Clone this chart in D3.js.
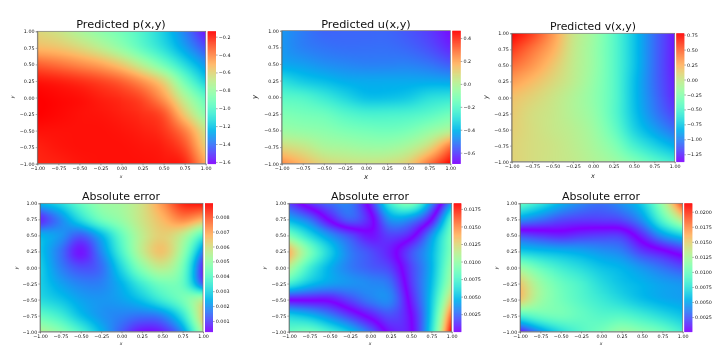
<!DOCTYPE html>
<html>
<head>
<meta charset="utf-8">
<script src="https://cdn.jsdelivr.net/npm/d3@7"></script>
<style>
  html, body { margin: 0; padding: 0; background: #fff; }
  svg { display: block; filter: blur(0.35px); font-family: "DejaVu Sans", sans-serif; }
  .tick text { fill: #111; }
  .tick line, .domain { stroke: #555; stroke-width: 0.5; }
</style>
</head>
<body>
<div id="chart"></div>
<script>
const width = 720, height = 354;

// grid nodes, same for every panel. rows go from y=1 at the top to y=-1
const gridX = [-1, -0.75, -0.5, -0.25, 0, 0.25, 0.5, 0.75, 1];
const gridY = [1, 0.75, 0.5, 0.25, 0, -0.25, -0.5, -0.75, -1];
const axisTicks = [-1, -0.75, -0.5, -0.25, 0, 0.25, 0.5, 0.75, 1];

const pValues = [
  [-0.61, -0.66, -0.75, -0.84, -0.92, -1.03, -1.18, -1.37, -1.59],
  [-0.52, -0.55, -0.61, -0.70, -0.82, -0.97, -1.12, -1.29, -1.47],
  [-0.32, -0.36, -0.41, -0.47, -0.57, -0.73, -0.92, -1.13, -1.32],
  [-0.18, -0.2, -0.23, -0.27, -0.33, -0.44, -0.61, -0.92, -1.18],
  [-0.14, -0.155, -0.17, -0.2, -0.23, -0.29, -0.45, -0.73, -0.98],
  [-0.14, -0.155, -0.17, -0.18, -0.2, -0.23, -0.30, -0.57, -0.85],
  [-0.17, -0.17, -0.17, -0.17, -0.18, -0.2, -0.24, -0.39, -0.67],
  [-0.2, -0.18, -0.17, -0.17, -0.17, -0.18, -0.2, -0.29, -0.58],
  [-0.21, -0.2, -0.18, -0.17, -0.17, -0.17, -0.18, -0.21, -0.47]
];
const uValues = [
  [-0.46, -0.51, -0.545, -0.545, -0.545, -0.545, -0.57, -0.61, -0.68],
  [-0.46, -0.50, -0.52, -0.53, -0.53, -0.53, -0.545, -0.58, -0.64],
  [-0.43, -0.45, -0.475, -0.49, -0.5, -0.5, -0.5, -0.52, -0.56],
  [-0.31, -0.36, -0.39, -0.42, -0.43, -0.43, -0.43, -0.43, -0.44],
  [-0.2, -0.22, -0.27, -0.33, -0.38, -0.38, -0.36, -0.31, -0.29],
  [-0.12, -0.14, -0.16, -0.21, -0.24, -0.24, -0.23, -0.2, -0.15],
  [-0.05, -0.07, -0.09, -0.12, -0.14, -0.15, -0.13, -0.07, 0],
  [0.09, 0.05, -0.01, -0.03, -0.05, -0.05, -0.01, 0.09, 0.29],
  [0.25, 0.17, 0.10, 0.07, 0.06, 0.07, 0.12, 0.29, 0.46]
];
const vValues = [
  [0.77, 0.6, 0.34, 0.02, -0.17, -0.45, -0.77, -1.07, -1.31],
  [0.62, 0.45, 0.26, 0, -0.19, -0.45, -0.77, -1.07, -1.31],
  [0.47, 0.34, 0.17, -0.02, -0.19, -0.45, -0.77, -1.07, -1.31],
  [0.32, 0.21, 0.09, -0.04, -0.21, -0.45, -0.79, -1.07, -1.29],
  [0.19, 0.11, 0.02, -0.09, -0.23, -0.45, -0.79, -1.05, -1.27],
  [0.15, 0.06, 0, -0.09, -0.21, -0.45, -0.77, -1.01, -1.2],
  [0.13, 0.06, 0, -0.06, -0.17, -0.39, -0.7, -0.9, -1.07],
  [0.11, 0.06, 0.02, -0.04, -0.13, -0.28, -0.53, -0.71, -0.86],
  [0.11, 0.06, 0.02, -0.02, -0.09, -0.17, -0.3, -0.45, -0.58]
];

// errors are in units of 1e-3 and signed, the colour is taken from the absolute value
const pError = [
  [2.44, 3.04, 4.16, 5.02, 5.28, 5.97, 7.18, 8.47, 8.73],
  [0.71, 1.83, 3.12, 4.33, 5.02, 5.88, 6.66, 7.35, 6.75],
  [2.44, 2.0, 1.31, 2.44, 4.16, 5.62, 6.31, 5.62, 3.73],
  [2.69, 1.57, 0.5, 1.83, 3.73, 5.62, 6.49, 5.02, 1.83],
  [2.87, 1.75, 1.14, 1.49, 3.04, 4.76, 5.62, 4.42, 0.71],
  [2.87, 2.18, 1.75, 1.75, 2.44, 3.56, 4.42, 4.16, 1.31],
  [3.12, 2.69, 2.18, 2.0, 2.18, 2.69, 3.56, 4.42, 5.45],
  [4.16, 3.56, 2.61, 2.0, 1.75, 1.57, 1.83, 3.3, 6.31],
  [5.45, 4.76, 3.73, 2.44, 1.31, 0.45, 0.62, 2.0, 5.45]
];
const uError = [
  [1.5, -1.0, -2.5, -3.0, 0.8, 7, 9, 3.5, -4],
  [4.5, 2.7, -0.2, -2.2, -0.5, 3.7, 3.3, 0, -7.7],
  [9, 6, 3.6, 1.8, 0.4, 1.5, 0.5, -3.5, -9],
  [13.7, 9, 5.5, 3, 1.8, 0.6, -1.8, -4.5, -9.2],
  [11, 7, 4.5, 3, 2.2, 1.4, -1.5, -4.5, -10],
  [7, 5, 4, 3.6, 3.3, 2.6, -1.2, -4.8, -10.8],
  [0.3, 0.3, 0.4, 1.7, 3, 3.2, -0.6, -5.2, -13],
  [-5.5, -4.6, -3.1, -1.3, 0.5, 1.8, 0, -5.5, -16],
  [-8.2, -8.6, -7, -5, -2.4, 0.5, 0.2, -6, -18.3]
];
const vError = [
  [-9.63, -7.5, -5.35, -3.85, -3.2, -4.28, -6.4, -11.8, -19.7],
  [-4.28, -3.2, -2.14, -1.71, -1.71, -2.14, -4.28, -9, -13.9],
  [2.14, 1.5, 1.07, 1.5, 1.71, 1.5, -1.07, -4.28, -6.4],
  [6.4, 5.8, 5.35, 4.9, 4.28, 3.64, 1.71, 0.43, -1.07],
  [11.8, 9.63, 8.13, 7.06, 6, 5.35, 4.28, 3.2, 2.14],
  [15.2, 11.8, 9.84, 8.56, 7.06, 6, 5.35, 4.7, 4.28],
  [15.2, 12, 10.27, 9, 7.9, 6.85, 5.8, 5.1, 4.7],
  [8.56, 9.84, 10.27, 9.63, 9, 9, 8.13, 7.06, 6],
  [0.64, 4.28, 7.06, 9, 10.27, 11.8, 11.1, 10.06, 8.13]
];

const pBarTicks = [-1.6, -1.4, -1.2, -1.0, -0.8, -0.6, -0.4, -0.2];
const uBarTicks = [-0.6, -0.4, -0.2, 0, 0.2, 0.4];
const vBarTicks = [-1.25, -1, -0.75, -0.5, -0.25, 0, 0.25, 0.5, 0.75];
const pErrTicks = [1, 2, 3, 4, 5, 6, 7, 8];
const uErrTicks = [2.5, 5, 7.5, 10, 12.5, 15, 17.5];
const vErrTicks = [2.5, 5, 7.5, 10, 12.5, 15, 17.5, 20];

// matplotlib's "rainbow"
const rainbow = t => {
  const r = Math.abs(2 * t - 0.5), g = Math.sin(Math.PI * t), b = Math.cos(Math.PI * t / 2);
  return [r, g, b].map(c => Math.round(255 * Math.max(0, Math.min(1, c))));
};
const rainbowCss = t => { const c = rainbow(t); return `rgb(${c[0]},${c[1]},${c[2]})`; };

const panels = [
  { title: "Predicted p(x,y)", grid: pValues, domain: [-1.62, -0.14], barTicks: pBarTicks, fmt: d => d3.format(".1f")(d),
    x0: 37.3, x1: 205.7, y0: 31.3, y1: 163.7, bar: [207.7, 216], titleX: 121, titleY: 28, titleSize: 11.3,
    xLabel: [121, 178], yLabel: [14, 97], labelSize: 4.5 },
  { title: "Predicted u(x,y)", grid: uValues, domain: [-0.696, 0.464], barTicks: uBarTicks, fmt: d => d3.format(".1f")(d),
    x0: 281.7, x1: 450.3, y0: 30.7, y1: 163.7, bar: [452.3, 460.7], titleX: 366, titleY: 28, titleSize: 11.3,
    xLabel: [366, 179], yLabel: [257, 97], labelSize: 7 },
  { title: "Predicted v(x,y)", grid: vValues, domain: [-1.374, 0.773], barTicks: vBarTicks, fmt: d => d3.format(".2f")(d),
    x0: 511.7, x1: 674.7, y0: 33.3, y1: 161.7, bar: [676.3, 684.3], titleX: 593, titleY: 30, titleSize: 10.9,
    xLabel: [593, 178], yLabel: [488, 97], labelSize: 6.5 },
  { title: "Absolute error", grid: pError, abs: true, domain: [0.28, 8.9], barTicks: pErrTicks, fmt: d => d3.format(".3f")(d / 1000),
    x0: 40, x1: 203, y0: 203.3, y1: 331.7, bar: [205, 213], titleX: 121, titleY: 200, titleSize: 11,
    xLabel: [121, 345], yLabel: [18, 268], labelSize: 4.5 },
  { title: "Absolute error", grid: uError, abs: true, domain: [0, 18.3], barTicks: uErrTicks, fmt: d => d3.format(".4f")(d / 1000),
    x0: 289, x1: 451.7, y0: 203.3, y1: 331.7, bar: [453.7, 461.3], titleX: 370, titleY: 200, titleSize: 11,
    xLabel: [370, 345], yLabel: [266, 268], labelSize: 4.5 },
  { title: "Absolute error", grid: vError, abs: true, domain: [0.06, 21.4], barTicks: vErrTicks, fmt: d => d3.format(".4f")(d / 1000),
    x0: 520, x1: 682.7, y0: 203.3, y1: 331.7, bar: [684.3, 692.3], titleX: 601, titleY: 200, titleSize: 11,
    xLabel: [601, 345], yLabel: [498, 268], labelSize: 4.5 }
];

const svg = d3.select("#chart").append("svg")
  .attr("width", width)
  .attr("height", height);

// catmull-rom between the four nearest grid nodes
const cubic = (a, b, c, d, t) =>
  b + 0.5 * t * (c - a + t * (2 * a - 5 * b + 4 * c - d + t * (3 * (b - c) + d - a)));

function sample(grid, col, row) {
  const n = grid.length;
  const i = Math.min(n - 2, Math.floor(row)), j = Math.min(n - 2, Math.floor(col));
  const at = (r, c) => {
    // linear extension past the edge of the grid
    if (r < 0) return 2 * at(0, c) - at(1, c);
    if (r >= n) return 2 * at(n - 1, c) - at(n - 2, c);
    if (c < 0) return 2 * at(r, 0) - at(r, 1);
    if (c >= n) return 2 * at(r, n - 1) - at(r, n - 2);
    return grid[r][c];
  };
  const fy = row - i, fx = col - j;
  const rows = [-1, 0, 1, 2].map(dr =>
    cubic(at(i + dr, j - 1), at(i + dr, j), at(i + dr, j + 1), at(i + dr, j + 2), fx));
  return cubic(rows[0], rows[1], rows[2], rows[3], fy);
}

// d3 axis writes font-size 10 on its group, so set ours after the call
const smallAxis = (g, axis) => g.call(axis.tickSize(1.6).tickPadding(1.2))
  .attr("font-size", 4.8)
  .attr("font-family", null);

panels.forEach(p => {
  const xScale = d3.scaleLinear().domain([-1, 1]).range([p.x0, p.x1]);
  const yScale = d3.scaleLinear().domain([-1, 1]).range([p.y1, p.y0]);
  const colorT = d3.scaleLinear().domain(p.domain).range([0, 1]).clamp(true);
  const colIdx = d3.scaleLinear().domain(gridX).range(gridX.map((d, i) => i));
  const rowIdx = d3.scaleLinear().domain(gridY).range(gridY.map((d, i) => i));

  // heatmap, painted on a canvas and placed as an image
  const w = Math.round((p.x1 - p.x0) * 2), h = Math.round((p.y1 - p.y0) * 2);
  const canvas = document.createElement("canvas");
  canvas.width = w;
  canvas.height = h;
  const ctx = canvas.getContext("2d");
  const img = ctx.createImageData(w, h);
  const px = d3.scaleLinear().domain([0, w - 1]).range([-1, 1]);
  const py = d3.scaleLinear().domain([0, h - 1]).range([1, -1]);
  for (let yy = 0; yy < h; yy++) {
    for (let xx = 0; xx < w; xx++) {
      let v = sample(p.grid, colIdx(px(xx)), rowIdx(py(yy)));
      if (p.abs) v = Math.abs(v);
      const c = rainbow(colorT(v));
      const k = (yy * w + xx) * 4;
      img.data[k] = c[0];
      img.data[k + 1] = c[1];
      img.data[k + 2] = c[2];
      img.data[k + 3] = 255;
    }
  }
  ctx.putImageData(img, 0, 0);

  svg.append("image")
    .attr("x", p.x0)
    .attr("y", p.y0)
    .attr("width", p.x1 - p.x0)
    .attr("height", p.y1 - p.y0)
    .attr("preserveAspectRatio", "none")
    .attr("href", canvas.toDataURL());

  svg.append("g")
    .attr("transform", `translate(0,${p.y1})`)
    .call(smallAxis, d3.axisBottom(xScale).tickValues(axisTicks).tickFormat(d3.format(".2f")));

  svg.append("g")
    .attr("transform", `translate(${p.x0},0)`)
    .call(smallAxis, d3.axisLeft(yScale).tickValues(axisTicks).tickFormat(d3.format(".2f")));

  // frame
  svg.append("rect")
    .attr("x", p.x0)
    .attr("y", p.y0)
    .attr("width", p.x1 - p.x0)
    .attr("height", p.y1 - p.y0)
    .attr("fill", "none")
    .attr("stroke", "#777")
    .attr("stroke-width", 0.7);

  // colourbar
  const barScale = d3.scaleLinear().domain(p.domain).range([p.y1, p.y0]);
  const barSteps = d3.range(p.y0, p.y1, 0.5);
  svg.append("g").selectAll("rect")
    .data(barSteps)
    .join("rect")
    .attr("x", p.bar[0])
    .attr("y", d => d)
    .attr("width", p.bar[1] - p.bar[0])
    .attr("height", 0.8)
    .attr("fill", d => rainbowCss(colorT(barScale.invert(d))));

  svg.append("g")
    .attr("transform", `translate(${p.bar[1]},0)`)
    .call(smallAxis, d3.axisRight(barScale).tickValues(p.barTicks).tickFormat(p.fmt))
    .call(g => g.select(".domain").remove());

  svg.append("text")
    .attr("x", p.titleX)
    .attr("y", p.titleY)
    .attr("text-anchor", "middle")
    .attr("font-size", p.titleSize)
    .attr("fill", "#111")
    .text(p.title);

  svg.append("text")
    .attr("x", p.xLabel[0])
    .attr("y", p.xLabel[1])
    .attr("text-anchor", "middle")
    .attr("font-size", p.labelSize)
    .attr("font-style", "italic")
    .attr("fill", "#222")
    .text("x");

  svg.append("text")
    .attr("transform", `translate(${p.yLabel[0]},${p.yLabel[1]})rotate(-90)`)
    .attr("text-anchor", "middle")
    .attr("font-size", p.labelSize)
    .attr("font-style", "italic")
    .attr("fill", "#222")
    .text("y");
});
</script>
</body>
</html>
